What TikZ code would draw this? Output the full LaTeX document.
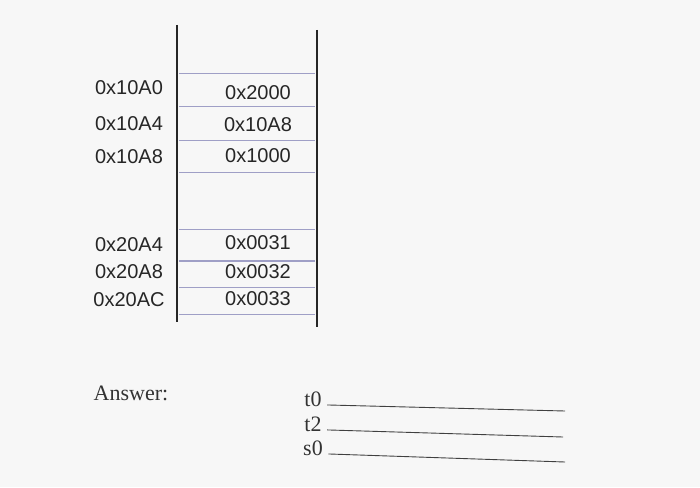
\documentclass[tikz,border=0pt]{standalone}
\usepackage{fontspec}
\setsansfont{Liberation Sans}
\setmainfont{Liberation Serif}
\begin{document}
\begin{tikzpicture}[x=1pt,y=-1pt,
  hex/.style={font=\sffamily\fontsize{20}{22}\selectfont,text=black!85},
  cell/.style={draw=blue!25!gray!60,line width=1pt},
  wall/.style={draw=black!85,line width=2pt},
  ans/.style={font=\rmfamily\fontsize{22}{24}\selectfont,text=black!80},
  blank/.style={draw=black!75,line width=0.9pt}]
\fill[black!3] (0,0) rectangle (700,487);
\useasboundingbox (0,0) rectangle (700,487);
\draw[wall] (177,25) -- (177,322);
\draw[wall] (317,30) -- (317,327);
\foreach \y in {73,106,140,172,229,261,287,314} \draw[cell] (179,\y) -- (315,\y);
\draw[cell,line width=2pt] (179,261) -- (315,261);
\node[hex] (a1) at (129,88) {0x10A0};
\node[hex] (a2) at (129,124) {0x10A4};
\node[hex] (a3) at (129,157) {0x10A8};
\node[hex] (a4) at (129,245) {0x20A4};
\node[hex] (a5) at (129,272) {0x20A8};
\node[hex] (a6) at (129,300) {0x20AC};
\node[hex] (v1) at (258,93) {0x2000};
\node[hex] (v2) at (258,125) {0x10A8};
\node[hex] (v3) at (258,156) {0x1000};
\node[hex] (v4) at (258,243) {0x0031};
\node[hex] (v5) at (258,272) {0x0032};
\node[hex] (v6) at (258,299) {0x0033};
\node[ans] (ansl) at (131,393) {Answer:};
\node[ans] (t0) at (313,399) {t0};
\node[ans] (t2) at (313,424) {t2};
\node[ans] (s0) at (313,448) {s0};
\coordinate (e1) at (565,411); \coordinate (e2) at (563,437); \coordinate (e3) at (565,462);
\draw[blank] (t0.south east) ++(2,-5) -- (e1);
\draw[blank] (t2.south east) ++(2,-5) -- (e2);
\draw[blank] (s0.south east) ++(2,-5) -- (e3);
\end{tikzpicture}
\end{document}
